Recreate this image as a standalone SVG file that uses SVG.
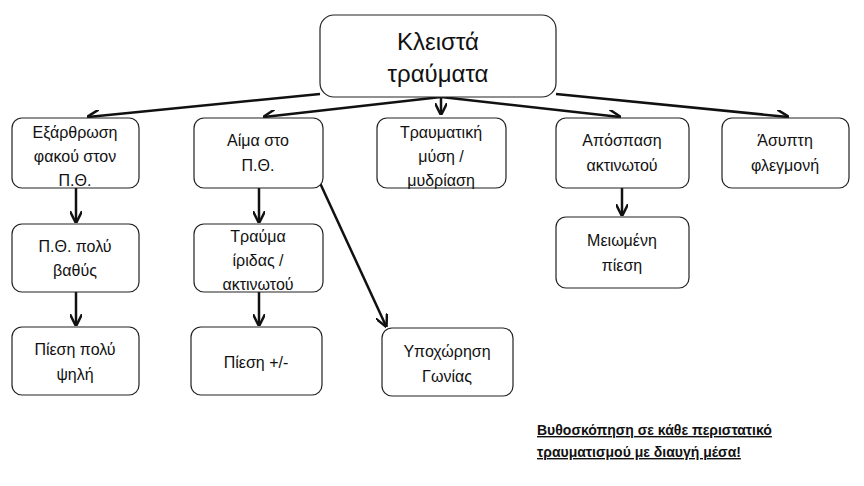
<svg xmlns="http://www.w3.org/2000/svg" width="864" height="486" viewBox="0 0 864 486">
<defs>
<style>
rect{fill:#fff;stroke:#222;stroke-width:1.2}
text{font-family:"Liberation Sans Narrow","Liberation Sans",sans-serif;font-size:16px;text-anchor:middle;fill:#111}
.c line{stroke:#111;stroke-width:2.5;marker-end:url(#a)}
.n{font-size:14px;font-weight:bold;text-anchor:start;text-decoration:underline}
</style>
<marker id="a" viewBox="0 0 10 10" refX="9" refY="5" markerWidth="5" markerHeight="5" orient="auto" markerUnits="strokeWidth"><path d="M0,0L10,5L0,10" fill="none" stroke="#111" stroke-width="2"/></marker>
</defs>
<rect width="864" height="486" style="fill:#fff;stroke:none"/>
<g class="c">
<line x1="320" y1="94" x2="88" y2="117"/>
<line x1="441" y1="97" x2="264" y2="117"/>
<line x1="441" y1="97" x2="441" y2="114"/>
<line x1="441" y1="97" x2="620" y2="117"/>
<line x1="556" y1="94" x2="788" y2="117"/>
<line x1="76" y1="188" x2="76" y2="222"/>
<line x1="76" y1="292" x2="76" y2="325"/>
<line x1="259" y1="188" x2="259" y2="222"/>
<line x1="259" y1="292" x2="259" y2="325"/>
<line x1="320" y1="183" x2="386" y2="326"/>
<line x1="622" y1="188" x2="622" y2="215"/>
</g>
<g id="n0"><rect x="320" y="15" width="236" height="82" rx="14"/><text x="438" y="50" style="font-size:24px">Κλειστά</text><text x="438" y="82" style="font-size:24px">τραύματα</text></g>
<g id="n1"><rect x="12" y="118" width="127" height="70" rx="10"/><text x="75" y="138">Εξάρθρωση</text><text x="75" y="162">φακού στον</text><text x="75" y="186">Π.Θ.</text></g>
<g id="n2"><rect x="194" y="118" width="129" height="70" rx="10"/><text x="258" y="146">Αίμα στο</text><text x="258" y="171">Π.Θ.</text></g>
<g id="n3"><rect x="377" y="118" width="129" height="70" rx="10"/><text x="441" y="138">Τραυματική</text><text x="441" y="162">μύση /</text><text x="441" y="186">μυδρίαση</text></g>
<g id="n4"><rect x="556" y="118" width="133" height="70" rx="10"/><text x="622" y="146">Απόσπαση</text><text x="622" y="171">ακτινωτού</text></g>
<g id="n5"><rect x="722" y="118" width="127" height="70" rx="10"/><text x="785" y="146">Άσυπτη</text><text x="785" y="171">φλεγμονή</text></g>
<g id="n6"><rect x="12" y="224" width="127" height="68" rx="10"/><text x="75" y="252">Π.Θ. πολύ</text><text x="75" y="276">βαθύς</text></g>
<g id="n7"><rect x="194" y="224" width="129" height="68" rx="10"/><text x="258" y="242">Τραύμα</text><text x="258" y="266">ίριδας /</text><text x="258" y="290">ακτινωτού</text></g>
<g id="n8"><rect x="556" y="217" width="133" height="71" rx="10"/><text x="622" y="246">Μειωμένη</text><text x="622" y="271">πίεση</text></g>
<g id="n9"><rect x="12" y="327" width="127" height="68" rx="10"/><text x="75" y="355">Πίεση πολύ</text><text x="75" y="380">ψηλή</text></g>
<g id="n10"><rect x="191" y="327" width="131" height="68" rx="10"/><text x="256" y="368">Πίεση +/-</text></g>
<g id="n11"><rect x="382" y="328" width="131" height="68" rx="10"/><text x="447" y="357">Υποχώρηση</text><text x="447" y="382">Γωνίας</text></g>
<text class="n" x="537" y="435">Βυθοσκόπηση σε κάθε περιστατικό</text>
<text class="n" x="537" y="457">τραυματισμού με διαυγή μέσα!</text>
</svg>
